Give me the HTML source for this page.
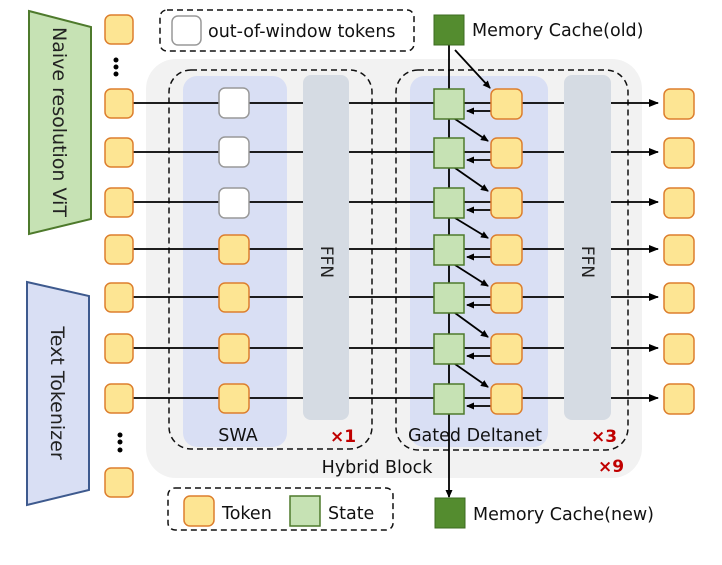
<!DOCTYPE html>
<html><head><meta charset="utf-8"><style>body{margin:0;background:#fff}svg{display:block}text{font-family:"DejaVu Sans","Liberation Sans",sans-serif}</style></head><body>
<svg width="722" height="565" viewBox="0 0 722 565" xmlns="http://www.w3.org/2000/svg">
<defs>
<marker id="a" markerWidth="8" markerHeight="8" refX="7" refY="4" orient="auto" markerUnits="userSpaceOnUse"><path d="M0,0.5 L8,4 L0,7.5 Z" fill="#000"/></marker>
<marker id="b" markerWidth="10" markerHeight="10" refX="9" refY="5" orient="auto" markerUnits="userSpaceOnUse"><path d="M0,1 L10,5 L0,9 Z" fill="#000"/></marker>
</defs>
<polygon points="29,11 91,27 91,219 29,234" fill="#c6e2b4" stroke="#4e7a2c" stroke-width="2"/>
<text transform="translate(53,122) rotate(90)" text-anchor="middle" font-size="19" fill="#222">Naive resolution ViT</text>
<polygon points="27,282 89,296 89,490 27,505" fill="#d9dff4" stroke="#3e5a8e" stroke-width="2"/>
<text transform="translate(51,393) rotate(90)" text-anchor="middle" font-size="19" fill="#222">Text Tokenizer</text>
<rect x="146" y="59" width="496" height="419" rx="30" fill="#f2f2f2"/>
<rect x="183" y="76" width="104" height="371" rx="14" fill="#d9dff4"/>
<rect x="410" y="76" width="138" height="371" rx="14" fill="#d9dff4"/>
<rect x="303" y="75" width="46" height="345" rx="8" fill="#d5dbe3"/>
<rect x="564" y="75" width="47" height="345" rx="8" fill="#d5dbe3"/>
<text transform="translate(321,262) rotate(90)" text-anchor="middle" font-size="17" fill="#222">FFN</text>
<text transform="translate(582,262) rotate(90)" text-anchor="middle" font-size="17" fill="#222">FFN</text>
<rect x="169" y="70" width="203" height="379" rx="22" fill="none" stroke="#111" stroke-width="1.5" stroke-dasharray="6,4"/>
<rect x="396" y="70" width="232" height="380" rx="22" fill="none" stroke="#111" stroke-width="1.5" stroke-dasharray="6,4"/>
<text x="238" y="441" text-anchor="middle" font-size="17.5" fill="#111">SWA</text>
<text x="343" y="442" text-anchor="middle" font-size="17" font-weight="bold" fill="#c00000">×1</text>
<text x="475" y="441" text-anchor="middle" font-size="17.5" fill="#111">Gated Deltanet</text>
<text x="604" y="442" text-anchor="middle" font-size="17" font-weight="bold" fill="#c00000">×3</text>
<text x="377" y="473" text-anchor="middle" font-size="17.5" fill="#111">Hybrid Block</text>
<text x="611" y="472" text-anchor="middle" font-size="17" font-weight="bold" fill="#c00000">×9</text>
<rect x="160" y="10" width="254" height="41" rx="7" fill="none" stroke="#111" stroke-width="1.5" stroke-dasharray="6,4"/>
<rect x="172" y="16" width="29" height="29" rx="6" fill="#fff" stroke="#999" stroke-width="1.5"/>
<text x="208" y="37" font-size="17.5" fill="#111">out-of-window tokens</text>
<line x1="449" y1="45" x2="449" y2="497" stroke="#000" stroke-width="1.8" marker-end="url(#a)"/>
<rect x="434" y="15" width="30" height="30" fill="#548c2f" stroke="#3d6b20"/>
<text x="472" y="36" font-size="17.5" fill="#111">Memory Cache(old)</text>
<rect x="435" y="498" width="30" height="30" fill="#548c2f" stroke="#3d6b20"/>
<text x="473" y="520" font-size="17.5" fill="#111">Memory Cache(new)</text>
<line x1="455" y1="50" x2="490" y2="88" stroke="#000" stroke-width="1.8" marker-end="url(#a)"/>
<g stroke="#000" stroke-width="1.8" fill="none">
<line x1="133" y1="103" x2="303" y2="103"/><line x1="349" y1="103" x2="434" y2="103"/><line x1="464" y1="103" x2="564" y2="103"/><line x1="611" y1="103" x2="658" y2="103" marker-end="url(#b)"/>
<line x1="133" y1="152" x2="303" y2="152"/><line x1="349" y1="152" x2="434" y2="152"/><line x1="464" y1="152" x2="564" y2="152"/><line x1="611" y1="152" x2="658" y2="152" marker-end="url(#b)"/>
<line x1="133" y1="202" x2="303" y2="202"/><line x1="349" y1="202" x2="434" y2="202"/><line x1="464" y1="202" x2="564" y2="202"/><line x1="611" y1="202" x2="658" y2="202" marker-end="url(#b)"/>
<line x1="133" y1="249" x2="303" y2="249"/><line x1="349" y1="249" x2="434" y2="249"/><line x1="464" y1="249" x2="564" y2="249"/><line x1="611" y1="249" x2="658" y2="249" marker-end="url(#b)"/>
<line x1="133" y1="297" x2="303" y2="297"/><line x1="349" y1="297" x2="434" y2="297"/><line x1="464" y1="297" x2="564" y2="297"/><line x1="611" y1="297" x2="658" y2="297" marker-end="url(#b)"/>
<line x1="133" y1="348" x2="303" y2="348"/><line x1="349" y1="348" x2="434" y2="348"/><line x1="464" y1="348" x2="564" y2="348"/><line x1="611" y1="348" x2="658" y2="348" marker-end="url(#b)"/>
<line x1="133" y1="398" x2="303" y2="398"/><line x1="349" y1="398" x2="434" y2="398"/><line x1="464" y1="398" x2="564" y2="398"/><line x1="611" y1="398" x2="658" y2="398" marker-end="url(#b)"/>
<line x1="491" y1="111" x2="467" y2="111" marker-end="url(#a)"/>
<line x1="491" y1="160" x2="467" y2="160" marker-end="url(#a)"/>
<line x1="491" y1="210" x2="467" y2="210" marker-end="url(#a)"/>
<line x1="491" y1="257" x2="467" y2="257" marker-end="url(#a)"/>
<line x1="491" y1="305" x2="467" y2="305" marker-end="url(#a)"/>
<line x1="491" y1="356" x2="467" y2="356" marker-end="url(#a)"/>
<line x1="491" y1="406" x2="467" y2="406" marker-end="url(#a)"/>
<line x1="455" y1="119" x2="488" y2="141" marker-end="url(#a)"/>
<line x1="455" y1="168" x2="488" y2="191" marker-end="url(#a)"/>
<line x1="455" y1="218" x2="488" y2="238" marker-end="url(#a)"/>
<line x1="455" y1="265" x2="488" y2="286" marker-end="url(#a)"/>
<line x1="455" y1="313" x2="488" y2="337" marker-end="url(#a)"/>
<line x1="455" y1="364" x2="488" y2="387" marker-end="url(#a)"/>
</g>
<g fill="#fde593" stroke="#dd7f2e" stroke-width="1.5">
<rect x="105" y="15" width="28" height="29" rx="6"/>
<rect x="105" y="89" width="28" height="29" rx="6"/>
<rect x="105" y="138" width="28" height="29" rx="6"/>
<rect x="105" y="188" width="28" height="29" rx="6"/>
<rect x="105" y="235" width="28" height="29" rx="6"/>
<rect x="105" y="283" width="28" height="29" rx="6"/>
<rect x="105" y="334" width="28" height="29" rx="6"/>
<rect x="105" y="384" width="28" height="29" rx="6"/>
<rect x="105" y="468" width="28" height="29" rx="6"/>
<rect x="219" y="235" width="30" height="29" rx="6"/>
<rect x="219" y="283" width="30" height="29" rx="6"/>
<rect x="219" y="334" width="30" height="29" rx="6"/>
<rect x="219" y="384" width="30" height="29" rx="6"/>
<rect x="491" y="89" width="31" height="30" rx="6"/>
<rect x="491" y="138" width="31" height="30" rx="6"/>
<rect x="491" y="188" width="31" height="30" rx="6"/>
<rect x="491" y="235" width="31" height="30" rx="6"/>
<rect x="491" y="283" width="31" height="30" rx="6"/>
<rect x="491" y="334" width="31" height="30" rx="6"/>
<rect x="491" y="384" width="31" height="30" rx="6"/>
<rect x="664" y="89" width="30" height="30" rx="6"/>
<rect x="664" y="138" width="30" height="30" rx="6"/>
<rect x="664" y="188" width="30" height="30" rx="6"/>
<rect x="664" y="235" width="30" height="30" rx="6"/>
<rect x="664" y="283" width="30" height="30" rx="6"/>
<rect x="664" y="334" width="30" height="30" rx="6"/>
<rect x="664" y="384" width="30" height="30" rx="6"/>
<rect x="184" y="496" width="30" height="30" rx="6"/>
</g>
<g fill="#fff" stroke="#999" stroke-width="1.5">
<rect x="219" y="88" width="30" height="30" rx="6"/>
<rect x="219" y="137" width="30" height="30" rx="6"/>
<rect x="219" y="188" width="30" height="30" rx="6"/>
</g>
<g fill="#c6e2b4" stroke="#4e7a2c" stroke-width="1.5">
<rect x="434" y="89" width="30" height="30"/>
<rect x="434" y="138" width="30" height="30"/>
<rect x="434" y="188" width="30" height="30"/>
<rect x="434" y="235" width="30" height="30"/>
<rect x="434" y="283" width="30" height="30"/>
<rect x="434" y="334" width="30" height="30"/>
<rect x="434" y="384" width="30" height="30"/>
<rect x="290" y="496" width="30" height="30"/>
</g>
<g fill="#000"><circle cx="116" cy="60" r="2.5"/><circle cx="116" cy="67" r="2.5"/><circle cx="116" cy="74" r="2.5"/>
<circle cx="120" cy="435" r="2.5"/><circle cx="120" cy="442" r="2.5"/><circle cx="120" cy="450" r="2.5"/></g>
<rect x="168" y="488" width="225" height="42" rx="7" fill="none" stroke="#111" stroke-width="1.5" stroke-dasharray="6,4"/>
<text x="222" y="519" font-size="17.5" fill="#111">Token</text>
<text x="328" y="519" font-size="17.5" fill="#111">State</text>
</svg>
</body></html>
